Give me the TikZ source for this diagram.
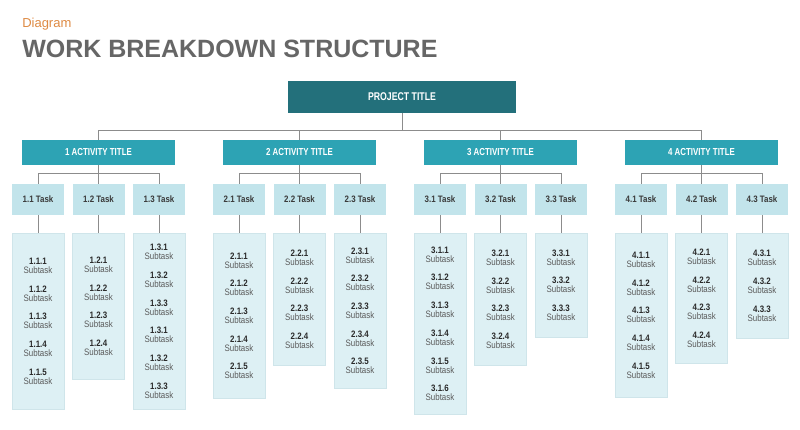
\documentclass[tikz,border=0pt]{standalone}
\usepackage{fontspec}
\setmainfont{Liberation Sans}
\newfontfamily\boxfont[FakeStretch=0.85]{Liberation Sans}
\newfontfamily\headfont[FakeStretch=0.78]{Liberation Sans}
\usepackage{color}
\usepackage{tikz}

\definecolor{projteal}{HTML}{23707B}
\definecolor{actteal}{HTML}{2DA3B4}
\definecolor{tasklight}{HTML}{C2E4EB}
\definecolor{sublight}{HTML}{DDF0F4}
\definecolor{subedge}{HTML}{CFE5EA}
\definecolor{linegray}{HTML}{8C8C8C}
\definecolor{titlegray}{HTML}{666666}
\definecolor{diagorange}{HTML}{DE8A43}
\definecolor{taskgray}{HTML}{3A3A3A}
\definecolor{numgray}{HTML}{2A2A2A}
\definecolor{subgray}{HTML}{5A5A5A}

\newcommand\subtsk[1]{\textbf{\color{numgray}#1}\\Subtask}

\begin{document}
\begin{tikzpicture}[x=0.75pt,y=-0.75pt,
  projbox/.style={rectangle,fill=projteal,minimum width=171pt,minimum height=24pt,inner sep=0pt,text=white,font=\headfont\fontsize{8.4}{10}\selectfont\bfseries},
  actbox/.style={rectangle,fill=actteal,minimum width=114.75pt,minimum height=18.75pt,inner sep=0pt,text=white,font=\headfont\fontsize{7.6}{9}\selectfont\bfseries},
  taskbox/.style={rectangle,fill=tasklight,minimum width=39pt,minimum height=23.25pt,inner sep=0pt,text=taskgray,font=\boxfont\fontsize{7}{8}\selectfont\bfseries},
  subbox/.style={rectangle,fill=sublight,draw=subedge,line width=0.4pt,minimum width=39pt,anchor=north,inner sep=0pt,align=center,text=subgray,font=\boxfont\fontsize{7}{6.75}\selectfont},
  wire/.style={draw=linegray,line width=0.75pt}]
\path[use as bounding box,fill=white] (0,0) rectangle (800,429);

% heading
\node (D) at (22,27) [anchor=base west,inner sep=0pt,text=diagorange,font=\fontsize{9.75}{12}\selectfont] {Diagram};
\node (W) at (22,57) [anchor=base west,inner sep=0pt,text=titlegray,font=\fontsize{18.75}{22}\selectfont\bfseries] {WORK BREAKDOWN STRUCTURE};

% top levels
\node (P) at (402,97) [projbox] {PROJECT TITLE};
\node (A1) at (98.5,152.5) [actbox] {1 ACTIVITY TITLE};
\node (A2) at (299.5,152.5) [actbox] {2 ACTIVITY TITLE};
\node (A3) at (500.5,152.5) [actbox] {3 ACTIVITY TITLE};
\node (A4) at (701.5,152.5) [actbox] {4 ACTIVITY TITLE};

% tasks
\node (T11) at (38,199.5) [taskbox] {1.1 Task};
\node (T12) at (98.5,199.5) [taskbox] {1.2 Task};
\node (T13) at (159,199.5) [taskbox] {1.3 Task};
\node (T21) at (239,199.5) [taskbox] {2.1 Task};
\node (T22) at (299.5,199.5) [taskbox] {2.2 Task};
\node (T23) at (360,199.5) [taskbox] {2.3 Task};
\node (T31) at (440,199.5) [taskbox] {3.1 Task};
\node (T32) at (500.5,199.5) [taskbox] {3.2 Task};
\node (T33) at (561,199.5) [taskbox] {3.3 Task};
\node (T41) at (641,199.5) [taskbox] {4.1 Task};
\node (T42) at (701.5,199.5) [taskbox] {4.2 Task};
\node (T43) at (762,199.5) [taskbox] {4.3 Task};

% subtasks
\node (S11) at (38,233) [subbox,minimum height=132pt] {\subtsk{1.1.1}\\[7.3pt]\subtsk{1.1.2}\\[7.3pt]\subtsk{1.1.3}\\[7.3pt]\subtsk{1.1.4}\\[7.3pt]\subtsk{1.1.5}};
\node (S12) at (98.5,233) [subbox,minimum height=109.5pt] {\subtsk{1.2.1}\\[7.3pt]\subtsk{1.2.2}\\[7.3pt]\subtsk{1.2.3}\\[7.3pt]\subtsk{1.2.4}};
\node (S13) at (159,233) [subbox,minimum height=132pt] {\subtsk{1.3.1}\\[7.3pt]\subtsk{1.3.2}\\[7.3pt]\subtsk{1.3.3}\\[7.3pt]\subtsk{1.3.1}\\[7.3pt]\subtsk{1.3.2}\\[7.3pt]\subtsk{1.3.3}};
\node (S21) at (239,233) [subbox,minimum height=123.75pt] {\subtsk{2.1.1}\\[7.3pt]\subtsk{2.1.2}\\[7.3pt]\subtsk{2.1.3}\\[7.3pt]\subtsk{2.1.4}\\[7.3pt]\subtsk{2.1.5}};
\node (S22) at (299.5,233) [subbox,minimum height=99pt] {\subtsk{2.2.1}\\[7.3pt]\subtsk{2.2.2}\\[7.3pt]\subtsk{2.2.3}\\[7.3pt]\subtsk{2.2.4}};
\node (S23) at (360,233) [subbox,minimum height=116.25pt] {\subtsk{2.3.1}\\[7.3pt]\subtsk{2.3.2}\\[7.3pt]\subtsk{2.3.3}\\[7.3pt]\subtsk{2.3.4}\\[7.3pt]\subtsk{2.3.5}};
\node (S31) at (440,233) [subbox,minimum height=135.75pt] {\subtsk{3.1.1}\\[7.3pt]\subtsk{3.1.2}\\[7.3pt]\subtsk{3.1.3}\\[7.3pt]\subtsk{3.1.4}\\[7.3pt]\subtsk{3.1.5}\\[7.3pt]\subtsk{3.1.6}};
\node (S32) at (500.5,233) [subbox,minimum height=99pt] {\subtsk{3.2.1}\\[7.3pt]\subtsk{3.2.2}\\[7.3pt]\subtsk{3.2.3}\\[7.3pt]\subtsk{3.2.4}};
\node (S33) at (561,233) [subbox,minimum height=78pt] {\subtsk{3.3.1}\\[7.3pt]\subtsk{3.3.2}\\[7.3pt]\subtsk{3.3.3}};
\node (S41) at (641,233) [subbox,minimum height=123pt] {\subtsk{4.1.1}\\[7.3pt]\subtsk{4.1.2}\\[7.3pt]\subtsk{4.1.3}\\[7.3pt]\subtsk{4.1.4}\\[7.3pt]\subtsk{4.1.5}};
\node (S42) at (701.5,233) [subbox,minimum height=97.5pt] {\subtsk{4.2.1}\\[7.3pt]\subtsk{4.2.2}\\[7.3pt]\subtsk{4.2.3}\\[7.3pt]\subtsk{4.2.4}};
\node (S43) at (762,233) [subbox,minimum height=78.75pt] {\subtsk{4.3.1}\\[7.3pt]\subtsk{4.3.2}\\[7.3pt]\subtsk{4.3.3}};

% project to activities
\draw [wire] (P.south) -- +(0,17) -| (A1.north);
\draw [wire] (P.south) -- +(0,17) -| (A2.north);
\draw [wire] (P.south) -- +(0,17) -| (A3.north);
\draw [wire] (P.south) -- +(0,17) -| (A4.north);

% activities to tasks
\draw [wire] (A1.south) -- +(0,8) -| (T11.north);
\draw [wire] (A1.south) -- (T12.north);
\draw [wire] (A1.south) -- +(0,8) -| (T13.north);
\draw [wire] (A2.south) -- +(0,8) -| (T21.north);
\draw [wire] (A2.south) -- (T22.north);
\draw [wire] (A2.south) -- +(0,8) -| (T23.north);
\draw [wire] (A3.south) -- +(0,8) -| (T31.north);
\draw [wire] (A3.south) -- (T32.north);
\draw [wire] (A3.south) -- +(0,8) -| (T33.north);
\draw [wire] (A4.south) -- +(0,8) -| (T41.north);
\draw [wire] (A4.south) -- (T42.north);
\draw [wire] (A4.south) -- +(0,8) -| (T43.north);

% tasks to subtasks
\draw [wire] (T11) -- (S11);
\draw [wire] (T12) -- (S12);
\draw [wire] (T13) -- (S13);
\draw [wire] (T21) -- (S21);
\draw [wire] (T22) -- (S22);
\draw [wire] (T23) -- (S23);
\draw [wire] (T31) -- (S31);
\draw [wire] (T32) -- (S32);
\draw [wire] (T33) -- (S33);
\draw [wire] (T41) -- (S41);
\draw [wire] (T42) -- (S42);
\draw [wire] (T43) -- (S43);
\end{tikzpicture}
\end{document}
